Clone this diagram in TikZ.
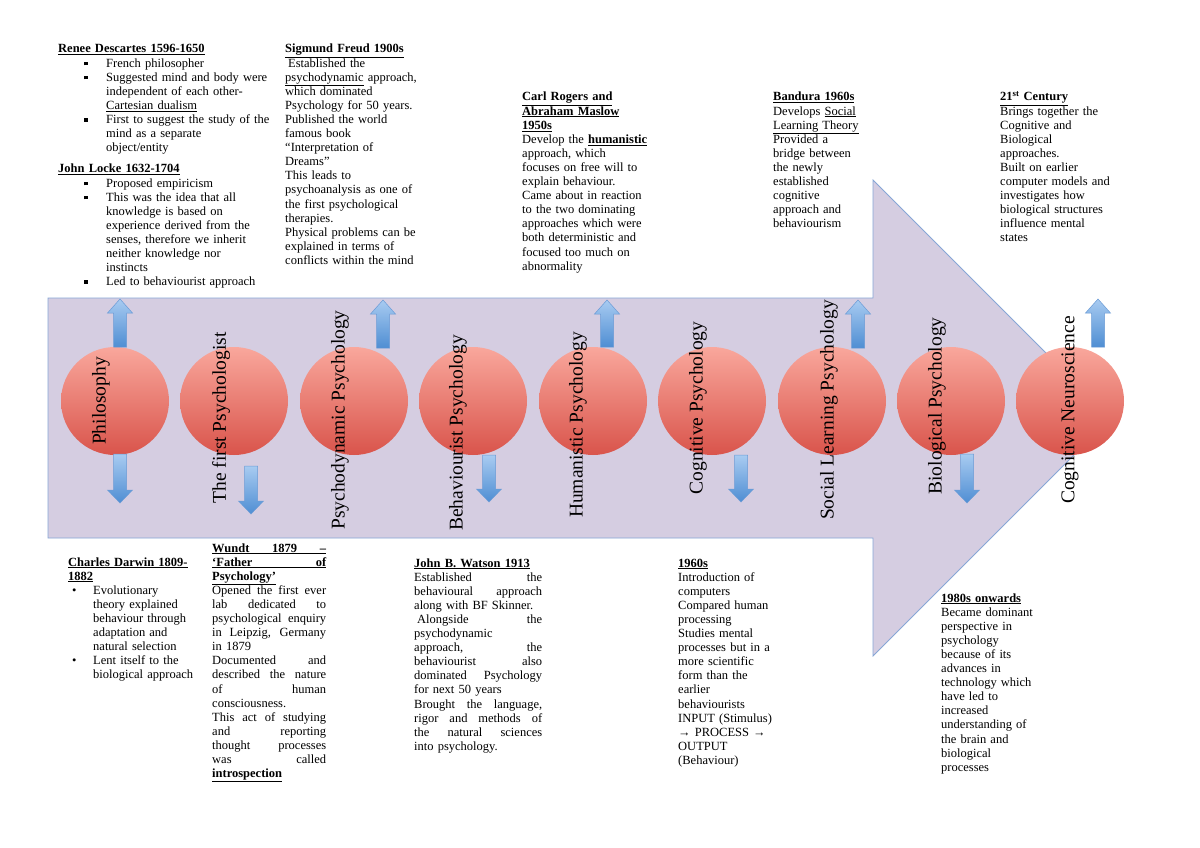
\documentclass[tikz,border=0pt]{standalone}
\usepackage{fontspec}
\setmainfont{Liberation Serif}
\definecolor{bigfill}{HTML}{D5CDE1}
\definecolor{bigline}{HTML}{86A6D6}
\definecolor{ctop}{HTML}{F9A79C}
\definecolor{cbot}{HTML}{D9544B}
\definecolor{atop}{HTML}{A8CBF1}
\definecolor{abot}{HTML}{4F8ED3}
\definecolor{aline}{HTML}{6A9BD6}
\newcommand{\sm}{\fontsize{12.5}{14.1}\selectfont}
\newcommand{\sqb}{\raisebox{1.8pt}{\rule{3.6pt}{3.6pt}}}
\newcommand{\bi}[1]{\hspace*{26pt}\makebox[22pt][l]{\sqb}#1}
\newcommand{\ci}[1]{\hspace*{48pt}#1}
\newcommand{\rb}[1]{\hspace*{4pt}\makebox[21pt][l]{•}#1}
\newcommand{\rc}[1]{\hspace*{25pt}#1}
\newcommand{\jw}[2]{\makebox[#1][s]{\spaceskip=0pt\xspaceskip=0pt\relax #2}}
\newcommand{\hd}[1]{\underline{\textbf{#1}}}
\newcommand{\uparr}[3]{\shade[barrow] (#1-6.5,#3) -- (#1-6.5,#2+14) -- (#1-12.5,#2+14) -- (#1,#2) -- (#1+12.5,#2+14) -- (#1+6.5,#2+14) -- (#1+6.5,#3) -- cycle;}
\newcommand{\dnarr}[3]{\shade[barrow] (#1-6.5,#2) -- (#1-6.5,#3-13) -- (#1-12.5,#3-13) -- (#1,#3) -- (#1+12.5,#3-13) -- (#1+6.5,#3-13) -- (#1+6.5,#2) -- cycle;}
\begin{document}
\begin{tikzpicture}[x=1pt,y=-1pt,
  bigarrow/.style={fill=bigfill,draw=bigline,line width=0.8pt,line join=miter},
  circ/.style={circle,minimum size=108pt,inner sep=0pt,top color=ctop,bottom color=cbot,draw=none},
  barrow/.style={top color=atop,bottom color=abot,draw=aline,line width=0.5pt},
  lab/.style={rotate=90,font=\fontsize{19.5}{22}\selectfont,inner sep=0pt},
  txt/.style={anchor=base west,inner sep=0pt,align=left,font=\sm,text width=#1},
  txt/.default=140pt]
\useasboundingbox (0,0) rectangle (1200,848);
\fill[white] (0,0) rectangle (1200,848);
% big arrow
\draw[bigarrow] (48,298) -- (873,298) -- (873,180) -- (1111,418) -- (873,656) -- (873,538) -- (48,538) -- cycle;
% circles
\node[circ] (c1) at (115,401) {};
\node[circ] (c2) at (234,401) {};
\node[circ] (c3) at (354,401) {};
\node[circ] (c4) at (473,401) {};
\node[circ] (c5) at (593,401) {};
\node[circ] (c6) at (712,401) {};
\node[circ] (c7) at (832,401) {};
\node[circ] (c8) at (951,401) {};
\node[circ] (c9) at (1070,401) {};
% blue arrows
\uparr{120}{299}{347}
\dnarr{120}{454}{503}
\dnarr{251}{466}{514}
\uparr{383}{300}{348}
\dnarr{489}{455}{502}
\uparr{607}{300}{347}
\dnarr{741}{455}{502}
\uparr{858}{300}{348}
\dnarr{967}{454}{503}
\uparr{1098}{299}{347}
% labels
\node[lab] (l1) at (101,401) {Philosophy};
\node[lab] (l2) at (221,418) {The first Psychologist};
\node[lab] (l3) at (340,420) {Psychodynamic Psychology};
\node[lab] (l4) at (458,433) {Behaviourist Psychology};
\node[lab] (l5) at (578,425) {Humanistic Psychology};
\node[lab] (l6) at (698,408) {Cognitive Psychology};
\node[lab] (l7) at (829,410) {Social Learning Psychology};
\node[lab] (l8) at (937,406) {Biological Psychology};
\node[lab] (l9) at (1070,410) {Cognitive Neuroscience};
% top texts
\node[txt=230pt] (descartes) at (58,53) {\hd{Renee Descartes 1596-1650}\\
\bi{French philosopher}\\
\bi{Suggested mind and body were}\\
\ci{independent of each other-}\\
\ci{\underline{Cartesian dualism}}\\
\bi{First to suggest the study of the}\\
\ci{mind as a separate}\\
\ci{object/entity}};
\node[txt=230pt] (locke) at (58,173) {\hd{John Locke 1632-1704}\\
\bi{Proposed empiricism}\\
\bi{This was the idea that all}\\
\ci{knowledge is based on}\\
\ci{experience derived from the}\\
\ci{senses, therefore we inherit}\\
\ci{neither knowledge nor}\\
\ci{instincts}\\
\bi{Led to behaviourist approach}};
\node[txt=140pt] (freud) at (285,53) {\hd{Sigmund Freud 1900s}\\
\hspace*{3pt}Established the\\
\underline{psychodynamic} approach,\\
which dominated\\
Psychology for 50 years.\\
Published the world\\
famous book\\
“Interpretation of\\
Dreams”\\
This leads to\\
psychoanalysis as one of\\
the first psychological\\
therapies.\\
Physical problems can be\\
explained in terms of\\
conflicts within the mind};
\node[txt=140pt] (rogers) at (522,101) {\hd{Carl Rogers and}\\
\hd{Abraham Maslow}\\
\hd{1950s}\\
Develop the \hd{humanistic}\\
approach, which\\
focuses on free will to\\
explain behaviour.\\
Came about in reaction\\
to the two dominating\\
approaches which were\\
both deterministic and\\
focused too much on\\
abnormality};
\node[txt=120pt] (bandura) at (773,101) {\hd{Bandura 1960s}\\
Develops \underline{Social}\\
\underline{Learning Theory}\\
Provided a\\
bridge between\\
the newly\\
established\\
cognitive\\
approach and\\
behaviourism};
\node[txt=130pt] (c21) at (1000,101) {\hd{21\textsuperscript{st} Century}\\
Brings together the\\
Cognitive and\\
Biological\\
approaches.\\
Built on earlier\\
computer models and\\
investigates how\\
biological structures\\
influence mental\\
states};
% bottom texts
\node[txt=140pt] (darwin) at (68,566) {\hd{Charles Darwin 1809-}\\
\hd{1882}\\
\rb{Evolutionary}\\
\rc{theory explained}\\
\rc{behaviour through}\\
\rc{adaptation and}\\
\rc{natural selection}\\
\rb{Lent itself to the}\\
\rc{biological approach}};
\node[txt=114pt] (wundt) at (212,552) {\underline{\textbf{\jw{114pt}{Wundt 1879 –}}}\\
\underline{\textbf{\jw{114pt}{‘Father of}}}\\
\hd{Psychology’}\\
\jw{114pt}{Opened the first ever}\\
\jw{114pt}{lab dedicated to}\\
\jw{114pt}{psychological enquiry}\\
\jw{114pt}{in Leipzig, Germany}\\
in 1879\\
\jw{114pt}{Documented and}\\
\jw{114pt}{described the nature}\\
\jw{114pt}{of human}\\
consciousness.\\
\jw{114pt}{This act of studying}\\
\jw{114pt}{and reporting}\\
\jw{114pt}{thought processes}\\
\jw{114pt}{was called}\\
\hd{introspection}};
\node[txt=128pt] (watson) at (414,567) {\hd{John B. Watson 1913}\\
\jw{128pt}{Established the}\\
\jw{128pt}{behavioural approach}\\
along with BF Skinner.\\
\hspace*{3pt}\jw{125pt}{Alongside the}\\
psychodynamic\\
\jw{128pt}{approach, the}\\
\jw{128pt}{behaviourist also}\\
\jw{128pt}{dominated Psychology}\\
for next 50 years\\
\jw{128pt}{Brought the language,}\\
\jw{128pt}{rigor and methods of}\\
\jw{128pt}{the natural sciences}\\
into psychology.};
\node[txt=125pt] (s1960) at (678,567) {\hd{1960s}\\
Introduction of\\
computers\\
Compared human\\
processing\\
Studies mental\\
processes but in a\\
more scientific\\
form than the\\
earlier\\
behaviourists\\
INPUT (Stimulus)\\
→ PROCESS →\\
OUTPUT\\
(Behaviour)};
\node[txt=125pt] (s1980) at (941,602) {\hd{1980s onwards}\\
Became dominant\\
perspective in\\
psychology\\
because of its\\
advances in\\
technology which\\
have led to\\
increased\\
understanding of\\
the brain and\\
biological\\
processes};
\end{tikzpicture}
\end{document}
